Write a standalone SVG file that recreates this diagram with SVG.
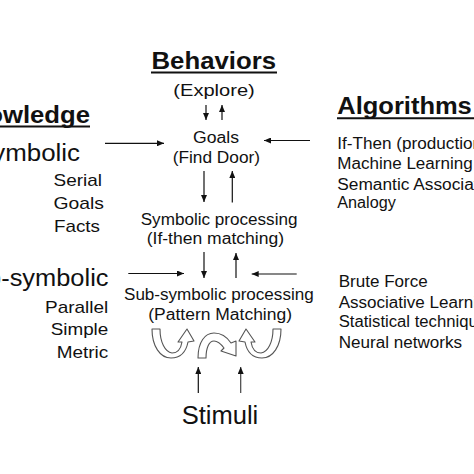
<svg xmlns="http://www.w3.org/2000/svg" width="474" height="474" viewBox="0 0 474 474">
<style>
text{font-family:"Liberation Sans",Arial,sans-serif;fill:#111}
.h{font-weight:bold;font-size:23px}
.big{font-size:23px}
.m{font-size:17px}
.s{font-size:16px}
.ul{stroke:#111;stroke-width:2}
.c{stroke:#111;stroke-width:1.2;fill:none;marker-end:url(#ah)}
.ca{fill:#fff;stroke:#555;stroke-width:1.1;stroke-linejoin:round}
</style>
<defs>
<marker id="ah" markerUnits="userSpaceOnUse" markerWidth="8" markerHeight="6" refX="7" refY="3" orient="auto">
<path d="M0,0 L7,3 L0,6 z" fill="#111"/>
</marker>
<path id="uarrow" d="M152,329 L160,329 C160,342 165,352 172,353 C178,353 181,348 182,342 L178,342 L187,329 L194,341 L188,342 C186,352 180,358 171,358 C160,358 152,346 152,329 Z"/>
</defs>
<rect width="474" height="474" fill="#fff"/>

<g id="knowledge">
<text class="h" x="-47" y="123" textLength="137" lengthAdjust="spacingAndGlyphs">Knowledge</text>
<line class="ul" x1="0" y1="126.5" x2="90" y2="126.5"/>
</g>
<g id="symbolic">
<text class="big" x="-25" y="161" textLength="105" lengthAdjust="spacingAndGlyphs">Symbolic</text>
<text class="m" x="53.5" y="186" textLength="48.4" lengthAdjust="spacingAndGlyphs">Serial</text>
<text class="m" x="53.5" y="208.5" textLength="50.5" lengthAdjust="spacingAndGlyphs">Goals</text>
<text class="m" x="54" y="232" textLength="46" lengthAdjust="spacingAndGlyphs">Facts</text>
</g>
<g id="subsymbolic">
<text class="big" x="-44" y="286" textLength="152.5" lengthAdjust="spacingAndGlyphs">Sub-symbolic</text>
<text class="m" x="45" y="312.5" textLength="63.3" lengthAdjust="spacingAndGlyphs">Parallel</text>
<text class="m" x="50.7" y="335" textLength="57.6" lengthAdjust="spacingAndGlyphs">Simple</text>
<text class="m" x="56.7" y="358" textLength="51.6" lengthAdjust="spacingAndGlyphs">Metric</text>
</g>

<g id="behaviors">
<text class="h" x="151.5" y="68.5" textLength="124.5" lengthAdjust="spacingAndGlyphs">Behaviors</text>
<line class="ul" x1="151" y1="72.5" x2="277" y2="72.5"/>
<text class="m" x="173.3" y="95.5" textLength="81.5" lengthAdjust="spacingAndGlyphs">(Explore)</text>
</g>
<g id="goals">
<text class="s" x="193" y="142.5" textLength="46" lengthAdjust="spacingAndGlyphs">Goals</text>
<text class="s" x="172.7" y="162.5" textLength="87.3" lengthAdjust="spacingAndGlyphs">(Find Door)</text>
</g>
<g id="symbolic-processing">
<text class="s" x="140.7" y="224.5" textLength="156.8" lengthAdjust="spacingAndGlyphs">Symbolic processing</text>
<text class="s" x="146.7" y="243.5" textLength="137.3" lengthAdjust="spacingAndGlyphs">(If-then matching)</text>
</g>
<g id="subsymbolic-processing">
<text class="s" x="124" y="300" textLength="189.7" lengthAdjust="spacingAndGlyphs">Sub-symbolic processing</text>
<text class="s" x="148.3" y="320" textLength="143.7" lengthAdjust="spacingAndGlyphs">(Pattern Matching)</text>
<g id="cycle-arrows">
<use href="#uarrow" class="ca"/>
<path class="ca" d="M198,358 L206,358 C206,348 209,341 214,341 C218,341 221,344 224,348 L221,351 L236,356 L236,341 L231,343 C227,337 221,333 214,333 C205,333 198,342 198,358 Z"/>
<use href="#uarrow" class="ca" transform="translate(433,0) scale(-1,1)"/>
</g>
</g>
<g id="stimuli">
<text x="181.7" y="424" font-size="25" textLength="76.6" lengthAdjust="spacingAndGlyphs">Stimuli</text>
</g>

<g id="algorithms">
<text class="h" x="337.3" y="114" textLength="134.5" lengthAdjust="spacingAndGlyphs">Algorithms</text>
<line class="ul" x1="337" y1="118.3" x2="474" y2="118.3"/>
<text class="s" x="337.3" y="148.5" textLength="159" lengthAdjust="spacingAndGlyphs">If-Then (productions)</text>
<text class="s" x="337.3" y="168.5" textLength="135.4" lengthAdjust="spacingAndGlyphs">Machine Learning</text>
<text class="s" x="337.3" y="189.5" textLength="173" lengthAdjust="spacingAndGlyphs">Semantic Associations</text>
<text class="s" x="337.3" y="207.5" textLength="58.5" lengthAdjust="spacingAndGlyphs">Analogy</text>
</g>
<g id="subsymbolic-algorithms">
<text class="s" x="338.7" y="287.3" textLength="89" lengthAdjust="spacingAndGlyphs">Brute Force</text>
<text class="s" x="338.7" y="307.7" textLength="157.2" lengthAdjust="spacingAndGlyphs">Associative Learning</text>
<text class="s" x="338.7" y="326.7" textLength="156.6" lengthAdjust="spacingAndGlyphs">Statistical techniques</text>
<text class="s" x="338.7" y="348.3" textLength="123.3" lengthAdjust="spacingAndGlyphs">Neural networks</text>
</g>

<g id="connectors">
<line class="c" x1="206" y1="105" x2="206" y2="120"/>
<line class="c" x1="222" y1="120" x2="222" y2="105"/>
<line class="c" x1="105" y1="143.3" x2="164" y2="143.3"/>
<line class="c" x1="310" y1="140.5" x2="264" y2="140.5"/>
<line class="c" x1="204" y1="171" x2="204" y2="202"/>
<line class="c" x1="232.3" y1="202.5" x2="232.3" y2="171"/>
<line class="c" x1="204" y1="252" x2="204" y2="278"/>
<line class="c" x1="236" y1="278" x2="236" y2="253"/>
<line class="c" x1="128.3" y1="273.5" x2="184" y2="273.5"/>
<line class="c" x1="296.7" y1="274" x2="251.7" y2="274"/>
<line class="c" x1="198.3" y1="393" x2="198.3" y2="367"/>
<line class="c" x1="240.7" y1="393" x2="240.7" y2="367" style="stroke:#444"/>
</g>
</svg>
